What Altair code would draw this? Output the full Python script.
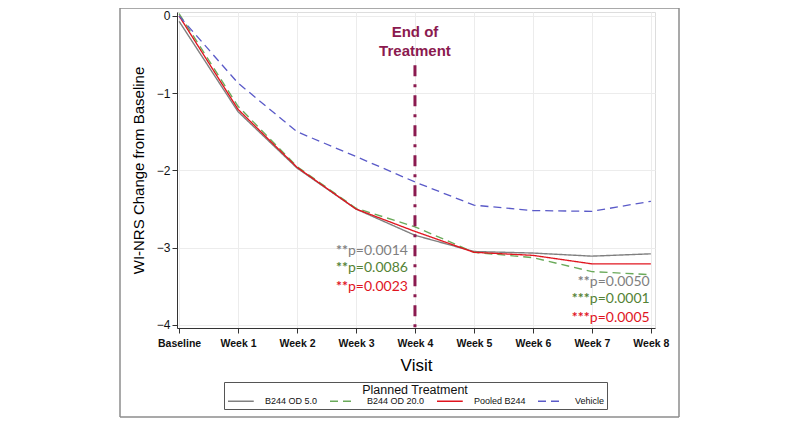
import altair as alt
import pandas as pd

visits = ["Baseline", "Week 1", "Week 2", "Week 3", "Week 4", "Week 5", "Week 6", "Week 7", "Week 8"]
series_names = ["B244 OD 5.0", "B244 OD 20.0", "Pooled B244", "Vehicle"]
od5 = [-0.07, -1.24, -1.97, -2.50, -2.84, -3.05, -3.07, -3.11, -3.08]
od20 = [0.03, -1.17, -1.95, -2.49, -2.73, -3.06, -3.13, -3.31, -3.35]
pooled = [0.0, -1.21, -1.96, -2.50, -2.79, -3.06, -3.10, -3.21, -3.21]
vehicle = [0.0, -0.87, -1.50, -1.82, -2.15, -2.45, -2.52, -2.53, -2.40]
series_colors = ["#808080", "#6aaa5a", "#e0141e", "#5a5ac8"]

# annotations (p-values)
left_stars = ["**", "**", "**"]
left_p = ["p=0.0014", "p=0.0086", "p=0.0023"]
left_y = [-3.04, -3.26, -3.51]
right_stars = ["**", "***", "***"]
right_p = ["p=0.0050", "p=0.0001", "p=0.0005"]
right_y = [-3.44, -3.67, -3.91]
text_colors = ["#7f7f7f", "#548235", "#e0141e"]

rows = []
for name, vals in zip(series_names, [od5, od20, pooled, vehicle]):
    for i, v in enumerate(vals):
        rows.append({"idx": i, "visit": visits[i], "value": v, "series": name})
df = pd.DataFrame(rows)

ann_rows = []
for s, t, y, c in zip(left_stars, left_p, left_y, text_colors):
    ann_rows.append({"x": 3.88, "y": y, "stars": s, "text": t, "color": c})
for s, t, y, c in zip(right_stars, right_p, right_y, text_colors):
    ann_rows.append({"x": 7.98, "y": y, "stars": s, "text": t, "color": c})
ann = pd.DataFrame(ann_rows)

xdom = [-0.035, 8.07]
ydom = [-4.04, 0.05]
label_expr = "[" + ",".join("'" + v + "'" for v in visits) + "][datum.value]"

xscale = alt.Scale(domain=xdom, nice=False, zero=False)
yscale = alt.Scale(domain=ydom, nice=False, zero=False)

base_x = alt.X("idx:Q", scale=xscale,
               axis=alt.Axis(values=list(range(9)), labelExpr=label_expr, title="Visit",
                             grid=True, gridColor="#ececec", labelFontSize=10.5, labelFontWeight="bold",
                             labelColor="#111", titleFontSize=17, titleFontWeight="normal",
                             titlePadding=9, tickColor="#333", domainColor="#333", labelPadding=5,
                             labelFlush=False))
base_y = alt.Y("value:Q", scale=yscale,
               axis=alt.Axis(values=[0, -1, -2, -3, -4], format="d", title="WI-NRS Change from Baseline",
                             grid=True, gridColor="#ececec", labelFontSize=12, labelColor="#111",
                             titleFontSize=15, titleFontWeight="normal", titlePadding=10,
                             tickColor="#333", domainColor="#333"))

lines = alt.Chart(df).mark_line(clip=True).encode(
    x=base_x,
    y=base_y,
    color=alt.Color("series:N", sort=series_names,
                    scale=alt.Scale(domain=series_names, range=series_colors),
                    legend=alt.Legend(title="Planned Treatment", orient="none", legendX=47, legendY=370,
                                      direction="horizontal", titleAnchor="middle", titleFontSize=12.5,
                                      titleFontWeight="normal", titleColor="#111", labelFontSize=9,
                                      labelColor="#111", symbolType="M-1,0H9.3", symbolSize=25,
                                      symbolStrokeWidth=1.5, columnPadding=9, strokeColor="#555",
                                      padding=2, titlePadding=0, labelOffset=30, rowPadding=0)),
    strokeDash=alt.StrokeDash("series:N", sort=series_names,
                              scale=alt.Scale(domain=series_names,
                                              range=[[1, 0], [8, 5], [1, 0], [8, 5]])),
    strokeWidth=alt.StrokeWidth("series:N", sort=series_names,
                                scale=alt.Scale(domain=series_names, range=[1.4, 1.3, 1.8, 1.2]),
                                legend=None),
    order=alt.Order("idx:Q"),
)

eot_df = pd.DataFrame({"idx": [4], "y1": [-0.64], "y2": [ydom[0]], "label": [["End of", "Treatment"]], "ly": [-0.21]})
eot_rule = alt.Chart(eot_df).mark_rule(color="#8b1a4f", strokeWidth=3, strokeDash=[11, 8, 3, 8]).encode(
    x=alt.X("idx:Q", scale=xscale), y=alt.Y("y1:Q", scale=yscale), y2="y2:Q")
eot_text = alt.Chart(eot_df).mark_text(color="#8b1a4f", fontSize=15, fontWeight="bold", font="Liberation Sans",
                                       baseline="middle", lineHeight=19).encode(
    x=alt.X("idx:Q", scale=xscale), y=alt.Y("ly:Q", scale=yscale), text="label")

ann_text = alt.Chart(ann).mark_text(align="right", baseline="middle", fontSize=14, font="Lato").encode(
    x=alt.X("x:Q", scale=xscale), y=alt.Y("y:Q", scale=yscale), text="text:N",
    color=alt.Color("color:N", scale=None))
ann_stars = alt.Chart(ann).mark_text(align="right", baseline="middle", fontSize=14, font="Lato",
                                     fontWeight="bold", dx=-60).encode(
    x=alt.X("x:Q", scale=xscale), y=alt.Y("y:Q", scale=yscale), text="stars:N",
    color=alt.Color("color:N", scale=None))

# outer figure frame (decoration)
one = pd.DataFrame({"a": [0]})
fL, fR, fT, fB = -57, 502, -4, 405
frame_style = dict(color="#8c8c8c", strokeWidth=1.5)
frame_top = alt.Chart(one).mark_rule(**frame_style).encode(x=alt.value(fL), x2=alt.value(fR), y=alt.value(fT))
frame_bot = alt.Chart(one).mark_rule(**frame_style).encode(x=alt.value(fL), x2=alt.value(fR), y=alt.value(fB))
frame_lft = alt.Chart(one).mark_rule(**frame_style).encode(x=alt.value(fL), y=alt.value(fT), y2=alt.value(fB))
frame_rgt = alt.Chart(one).mark_rule(**frame_style).encode(x=alt.value(fR), y=alt.value(fT), y2=alt.value(fB))

chart = alt.layer(frame_top, frame_bot, frame_lft, frame_rgt,
                  lines, eot_rule, eot_text, ann_text, ann_stars).properties(
    width=478, height=316,
    autosize=alt.AutoSizeParams(type="none"),
    padding={"left": 169, "top": 4, "right": 140, "bottom": 92},
).configure_view(stroke="#444", strokeWidth=1).configure(font="Liberation Sans")

chart.save("out.html", embed_options={"renderer": "svg", "actions": False})
